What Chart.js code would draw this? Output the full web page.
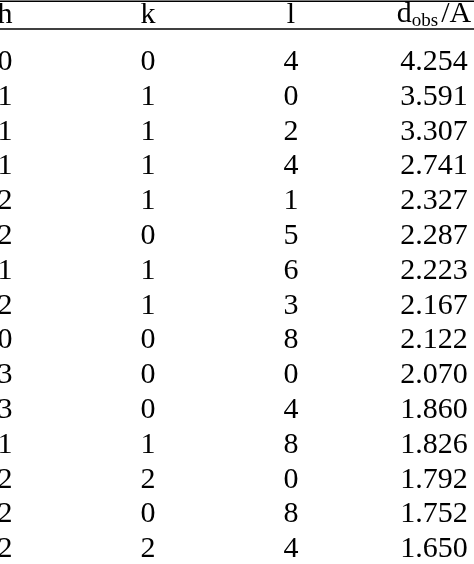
<!DOCTYPE html>
<html><head><meta charset="utf-8">
<script src="https://cdn.jsdelivr.net/npm/chart.js@4"></script>
<style>html,body{margin:0;padding:0;background:#fff}#w{width:474px;height:564px}</style>
</head><body><div id="w"><canvas id="c"></canvas></div>
<script>
const headers = ["h","k","l","d_obs/A"];
const hCol = [0,1,1,1,2,2,1,2,0,3,3,1,2,2,2];
const kCol = [0,1,1,1,1,0,1,1,0,0,0,1,2,0,2];
const lCol = [4,0,2,4,1,5,6,3,8,0,4,8,0,8,4];
const dObs = ["4.254","3.591","3.307","2.741","2.327","2.287","2.223","2.167","2.122","2.070","1.860","1.826","1.792","1.752","1.650"];
const columns = [hCol,kCol,lCol,dObs];
const HEADER_ROW = -1.35;
const ruleRows = [-1.72,-0.92];
const F = '"Liberation Serif", "DejaVu Serif", serif';

const datasets = columns.map((col,ci)=>({
  data: col.map((v,ri)=>({x:ci,y:ri,label:String(v)})).concat([{x:ci,y:HEADER_ROW,label:headers[ci],header:true}]),
  pointRadius:0, pointHoverRadius:0
}));

const textPlugin = {
  id:'tableText',
  afterDatasetsDraw(chart){
    const ctx=chart.ctx, xs=chart.scales.x, ys=chart.scales.y;
    ctx.save();
    ctx.strokeStyle='#000'; ctx.lineWidth=1.5;
    ruleRows.forEach(r=>{const y=ys.getPixelForValue(r);ctx.beginPath();ctx.moveTo(0,y);ctx.lineTo(chart.width,y);ctx.stroke();});
    ctx.fillStyle='#000'; ctx.textBaseline='middle';
    chart.data.datasets.forEach((ds,di)=>{
      const meta=chart.getDatasetMeta(di);
      meta.data.forEach((pt,i)=>{
        const d=ds.data[i];
        ctx.font='30px '+F;
        if(d.header && d.label.startsWith('d_')){
          const a='d', b='obs', c='/A';
          const wa=ctx.measureText(a).width, wc=ctx.measureText(c).width;
          ctx.font='19px '+F; const wb=ctx.measureText(b).width;
          let x=pt.x-(wa+wb+wc+3)/2;
          ctx.textAlign='left';
          ctx.font='30px '+F; ctx.fillText(a,x,pt.y); x+=wa;
          ctx.font='19px '+F; ctx.fillText(b,x,pt.y+7); x+=wb+3;
          ctx.font='30px '+F; ctx.fillText(c,x,pt.y);
        } else {
          ctx.textAlign='center'; ctx.fillText(d.label,pt.x,pt.y+1);
        }
      });
    });
    ctx.restore();
  }
};

new Chart(document.getElementById('c'),{
  type:'scatter',
  data:{datasets},
  options:{
    responsive:true, maintainAspectRatio:false, animation:false,
    layout:{padding:0},
    plugins:{legend:{display:false},tooltip:{enabled:false}},
    scales:{
      x:{type:'linear',min:-0.035,max:3.28,display:false},
      y:{type:'linear',min:-1.753,max:14.45,reverse:true,display:false}
    }
  },
  plugins:[textPlugin]
});
</script></body></html>
